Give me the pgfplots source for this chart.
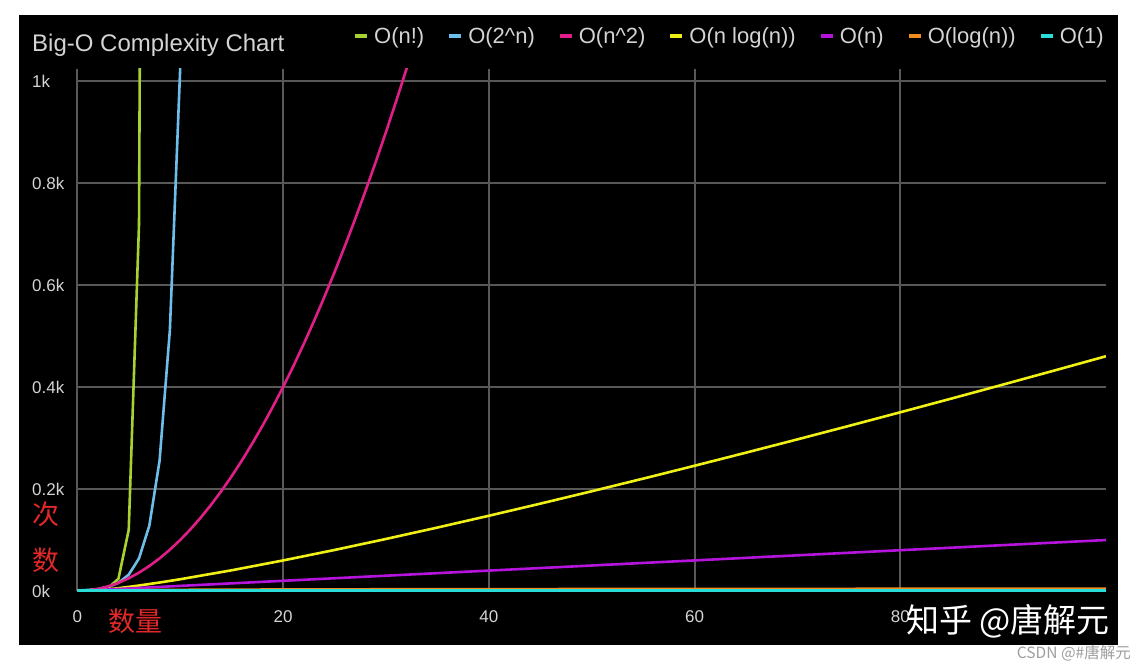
\documentclass[border=0pt]{standalone}
\usepackage{fontspec}
\setmainfont{Liberation Sans}
\newfontfamily\cjk{Noto Sans CJK SC}
\usepackage{pgfplots}
\pgfplotsset{compat=1.18}
\definecolor{gridgray}{RGB}{88,88,88}
\definecolor{txtgray}{RGB}{212,212,212}
\definecolor{cfact}{RGB}{168,210,50}
\definecolor{cexp}{RGB}{110,190,235}
\definecolor{csq}{RGB}{225,30,135}
\definecolor{cnlog}{RGB}{240,240,20}
\definecolor{clin}{RGB}{180,20,220}
\definecolor{clog}{RGB}{240,140,30}
\definecolor{cone}{RGB}{40,220,215}
\definecolor{cnred}{RGB}{226,40,40}
\begin{document}
\begin{tikzpicture}
\path[use as bounding box, fill=white] (0pt,0pt) rectangle (1146pt,670pt);
\fill[black] (19pt,25pt) rectangle (1118pt,655pt);
\node[anchor=base west, inner sep=0pt, text=txtgray, font=\fontsize{24pt}{28pt}\selectfont] at (32pt,618pt) {Big-O Complexity Chart};
\begin{axis}[
  at={(77.3pt,79pt)}, anchor=south west,
  scale only axis, width=1028.7pt, height=522pt,
  xmin=0, xmax=100, ymin=0, ymax=1024,
  axis line style={draw=none},
  tick style={draw=none},
  xtick={0,20,40,60,80}, xticklabels={0,20,40,60,80},
  ytick={0,200,400,600,800,1000}, yticklabels={0k,0.2k,0.4k,0.6k,0.8k,1k},
  grid=major, major grid style={draw=gridgray, line width=2pt},
  yticklabel style={anchor=west, xshift=-45.3pt, inner sep=0pt, text=txtgray, font=\fontsize{17pt}{20pt}\selectfont},
  xticklabel style={anchor=center, yshift=-26pt, inner sep=0pt, text=txtgray, font=\fontsize{17pt}{20pt}\selectfont},
  no markers,
  every axis plot/.append style={line width=2.6pt, line join=round},
  legend columns=-1,
  legend style={at={(rel axis cs:1,1)}, anchor=east, yshift=33pt, xshift=-2pt,
    draw=none, fill=none, inner sep=0pt, text=txtgray,
    font=\fontsize{22pt}{26pt}\selectfont,
    nodes={inner sep=0pt},
    /tikz/every odd column/.append style={column sep=5pt},
    /tikz/every even column/.append style={column sep=23pt}},
  legend image code/.code={\draw[line width=4pt] (0pt,0pt) -- (12pt,0pt);},
]
\addplot[cfact] coordinates {(0,1)(1,1)(2,2)(3,6)(4,24)(5,120)(6,720)(7,5040)};
\addlegendentry{O(n!)}
\addplot[cexp] coordinates {(0,1)(1,2)(2,4)(3,8)(4,16)(5,32)(6,64)(7,128)(8,256)(9,512)(10,1024)(11,2048)};
\addlegendentry{O(2\textasciicircum n)}
\addplot[csq] coordinates {(0,0)(1,1)(2,4)(3,9)(4,16)(5,25)(6,36)(7,49)(8,64)(9,81)(10,100)(11,121)(12,144)(13,169)(14,196)(15,225)(16,256)(17,289)(18,324)(19,361)(20,400)(21,441)(22,484)(23,529)(24,576)(25,625)(26,676)(27,729)(28,784)(29,841)(30,900)(31,961)(32,1024)(33,1089)};
\addlegendentry{O(n\textasciicircum 2)}
\addplot[cnlog] coordinates {(0,0)(1,0)(2,1.386)(3,3.296)(4,5.545)(5,8.047)(6,10.75)(8,16.64)(10,23.03)(15,40.62)(20,59.91)(25,80.47)(30,102.04)(35,124.44)(40,147.56)(45,171.30)(50,195.60)(55,220.40)(60,245.66)(65,271.34)(70,297.40)(75,323.81)(80,350.56)(85,377.63)(90,404.98)(95,432.62)(100,460.52)};
\addlegendentry{O(n log(n))}
\addplot[clin] coordinates {(0,0)(100,100)};
\addlegendentry{O(n)}
\addplot[clog] coordinates {(0,0)(1,0)(2,0.69)(3,1.10)(5,1.61)(10,2.30)(20,3.00)(30,3.40)(50,3.91)(70,4.25)(100,4.61)};
\addlegendentry{O(log(n))}
\addplot[cone, line width=3.2pt] coordinates {(0,1)(100,1)};
\addlegendentry{O(1)}
\end{axis}
\node[text=cnred, font=\cjk\fontsize{27pt}{30pt}\selectfont, inner sep=0pt] at (46pt,156pt) {次};
\node[text=cnred, font=\cjk\fontsize{27pt}{30pt}\selectfont, inner sep=0pt] at (46pt,110pt) {数};
\node[text=cnred, font=\cjk\fontsize{27pt}{30pt}\selectfont, inner sep=0pt] at (135pt,49pt) {数量};
\node[text=white, font=\cjk\fontsize{33pt}{36pt}\selectfont, inner sep=0pt] at (1008pt,49pt) {知乎 @唐解元};
\node[text=black!38, font=\cjk\fontsize{15.5pt}{18pt}\selectfont, inner sep=0pt, anchor=east] at (1131pt,17pt) {CSDN @\#唐解元};
\end{tikzpicture}
\end{document}
